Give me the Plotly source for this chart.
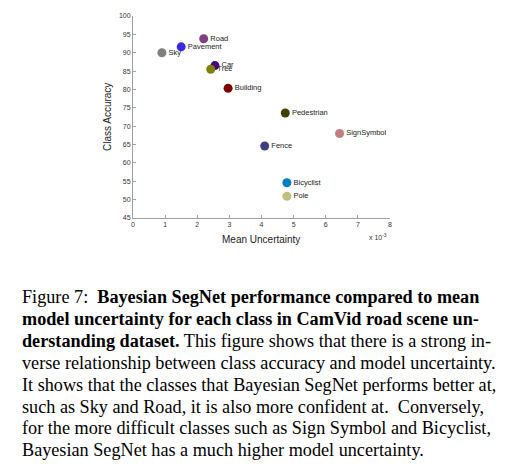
import plotly.graph_objects as go

# class accuracy vs mean model uncertainty (x in units of 1e-3)
classes = ["Sky", "Pavement", "Road", "Car", "Tree", "Building",
           "Pedestrian", "SignSymbol", "Fence", "Bicyclist", "Pole"]
uncertainty = [0.90, 1.50, 2.20, 2.55, 2.42, 2.96, 4.74, 6.43, 4.10, 4.79, 4.79]
accuracy = [90.0, 91.6, 93.8, 86.5, 85.5, 80.3, 73.6, 68.0, 64.6, 54.6, 50.9]
colors = ["rgb(128,128,128)", "rgb(60,40,222)", "rgb(128,64,128)", "rgb(64,0,128)",
          "rgb(128,128,0)", "rgb(128,0,0)", "rgb(64,64,0)", "rgb(192,128,128)",
          "rgb(64,64,128)", "rgb(0,128,192)", "rgb(192,192,128)"]

x_ticks = [0, 1, 2, 3, 4, 5, 6, 7, 8]
y_ticks = [45, 50, 55, 60, 65, 70, 75, 80, 85, 90, 95, 100]

caption_lines = [
    "Figure 7:  <b>Bayesian SegNet performance compared to mean</b>",
    "<b>model uncertainty for each class in CamVid road scene un-</b>",
    "<b>derstanding dataset.</b> This figure shows that there is a strong in-",
    "verse relationship between class accuracy and model uncertainty.",
    "It shows that the classes that Bayesian SegNet performs better at,",
    "such as Sky and Road, it is also more confident at.  Conversely,",
    "for the more difficult classes such as Sign Symbol and Bicyclist,",
    "Bayesian SegNet has a much higher model uncertainty.",
]

W, H = 516, 472
L, R, T, B = 133, 390, 16, 218  # plot area in pixels


def px_x(px):
    return (px - L) / (R - L)


def px_y(py):
    return (B - py) / (B - T)


fig = go.Figure()
fig.add_trace(go.Scatter(
    x=uncertainty, y=accuracy, mode="markers+text",
    text=classes, textposition="middle right",
    marker=dict(size=9, color=colors),
    textfont=dict(family="Liberation Sans", size=7.5, color="#222"),
    cliponaxis=False, hoverinfo="skip",
))

axis_style = dict(
    showline=True, linecolor="#a0a0a0", linewidth=1,
    ticks="inside", ticklen=3, tickcolor="#a0a0a0",
    showgrid=False, zeroline=False, mirror=False,
    tickfont=dict(family="Liberation Sans", size=7, color="#333"),
)
fig.update_xaxes(range=[0, 8], tickvals=x_ticks, **axis_style)
fig.update_yaxes(range=[45, 100], tickvals=y_ticks, **axis_style)

label_font = dict(family="Liberation Sans", size=10, color="#222")
fig.add_annotation(text="Mean Uncertainty", xref="paper", yref="paper",
                   x=px_x(261), y=px_y(239), xanchor="center", yanchor="middle",
                   showarrow=False, font=label_font)
fig.add_annotation(text="Class Accuracy", xref="paper", yref="paper",
                   x=px_x(107), y=px_y(117), xanchor="center", yanchor="middle",
                   showarrow=False, textangle=-90, font=label_font)
fig.add_annotation(text="x 10<sup>-3</sup>", xref="paper", yref="paper",
                   x=px_x(378), y=px_y(237), xanchor="center", yanchor="middle",
                   showarrow=False,
                   font=dict(family="Liberation Sans", size=7, color="#333"))

for i, line in enumerate(caption_lines):
    fig.add_annotation(text=line, xref="paper", yref="paper",
                       x=px_x(20), y=px_y(297 + i * 21.9),
                       xanchor="left", yanchor="middle", showarrow=False,
                       font=dict(family="Liberation Serif", size=18.2, color="#000"))

fig.update_layout(
    width=W, height=H,
    margin=dict(l=L, r=W - R, t=T, b=H - B),
    paper_bgcolor="white", plot_bgcolor="white",
    showlegend=False,
)

fig.write_html("out.html", config={"displayModeBar": False},
               post_script="document.body.style.margin='0';")
